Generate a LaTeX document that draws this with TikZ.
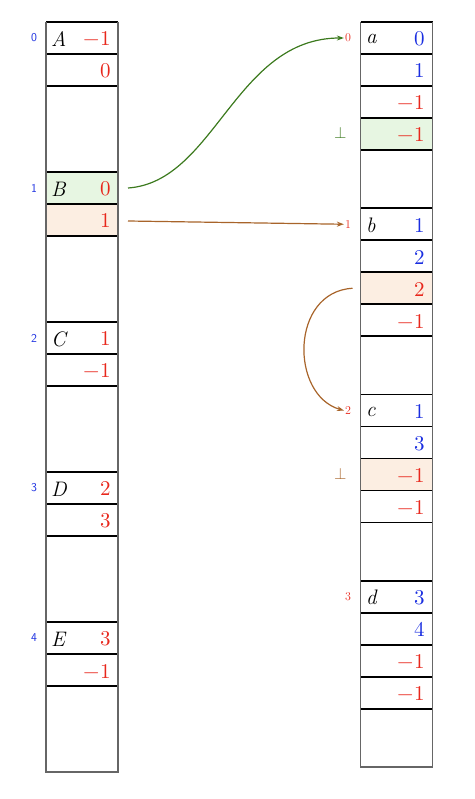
\documentclass[tikz,border=0pt]{standalone}
\usepackage{fontspec}
\usepackage{unicode-math}
\usetikzlibrary{arrows.meta}
\definecolor{vred}{HTML}{E8271C}
\definecolor{vblue}{HTML}{1A2EE0}
\definecolor{lgreen}{HTML}{E7F6E2}
\definecolor{lorange}{HTML}{FCEEE2}
\definecolor{dgreen}{HTML}{3C7A1E}
\definecolor{dorange}{HTML}{A8642A}
\tikzset{
  cell/.style={minimum width=72pt,minimum height=32pt,inner sep=0pt,outer sep=0pt},
  sepline/.style={black,line width=1.8pt},
  sideline/.style={gray!80!black,line width=1.4pt},
  val/.style={anchor=east,inner sep=0pt,font=\fontsize{21}{24}\selectfont},
  let/.style={anchor=west,inner sep=0pt,font=\fontsize{21}{24}\selectfont},
  idx/.style={inner sep=1pt,font=\fontsize{12}{14}\selectfont},
  conn/.style={line width=1.2pt,-{Stealth[length=7pt,width=5pt]}},
}
\begin{document}
\begin{tikzpicture}[x=1pt,y=-1pt]
\useasboundingbox (0,0) rectangle (474,799);
% ---------- left column ----------
\foreach \L/\va/\vb [count=\i from 0] in {A/{-1}/0,B/0/1,C/1/{-1},D/2/3,E/3/{-1}}{
  \pgfmathsetmacro{\yz}{22+150*\i}
  \node[cell] (L\i a) at (82,\yz+16) {};
  \node[cell] (L\i b) at (82,\yz+48) {};
}
\fill[lgreen] (L1a.north west) rectangle (L1a.south east);
\fill[lorange] (L1b.north west) rectangle (L1b.south east);
\foreach \L/\va/\vb [count=\i from 0] in {A/{-1}/0,B/0/1,C/1/{-1},D/2/3,E/3/{-1}}{
  \pgfmathsetmacro{\yz}{22+150*\i}
  \node[let] (LL\i) at (51,\yz+17) {$\mathit{\L}$};
  \node[val,text=vred] (LV\i a) at (111,\yz+17) {$\va$};
  \node[val,text=vred] (LV\i b) at (111,\yz+49) {$\vb$};
  \node[idx,text=vblue] (LI\i) at (34,\yz+16) {\sffamily\i};
  \draw[sepline] (L\i a.north west) -- (L\i a.north east);
  \draw[sepline] (L\i b.north west) -- (L\i b.north east);
  \draw[sepline] (L\i b.south west) -- (L\i b.south east);
}
\draw[sideline] (46,22) -- (46,772) -- (118,772) -- (118,22);
% ---------- right column ----------
\foreach \j in {0,1,2,3}{
  \pgfmathsetmacro{\yz}{22+186.25*\j}
  \foreach \k in {0,1,2,3}{
    \node[cell] (R\j\k) at (396.5,\yz+16+32*\k) {};
  }
}
\fill[lgreen] (R03.north west) rectangle (R03.south east);
\fill[lorange] (R12.north west) rectangle (R12.south east);
\fill[lorange] (R22.north west) rectangle (R22.south east);
\foreach \l/\va/\vb/\vc/\vd [count=\j from 0] in {a/0/1/{-1}/{-1},b/1/2/2/{-1},c/1/3/{-1}/{-1},d/3/4/{-1}/{-1}}{
  \pgfmathsetmacro{\yz}{22+186.25*\j}
  \node[let] (RL\j) at (366,\yz+17) {$\mathit{\l}$};
  \node[val,text=vblue] (RV\j0) at (425,\yz+17) {$\va$};
  \node[val,text=vblue] (RV\j1) at (425,\yz+49) {$\vb$};
  \node[val,text=vred] (RV\j2) at (425,\yz+81) {$\vc$};
  \node[val,text=vred] (RV\j3) at (425,\yz+113) {$\vd$};
  \node[idx,text=vred] (RI\j) at (348,\yz+16) {\j};
  \foreach \k in {0,1,2,3}{
    \draw[sepline] (R\j\k.north west) -- (R\j\k.north east);
  }
  \draw[sepline] (R\j3.south west) -- (R\j3.south east);
}
\draw[sideline] (360.5,22) -- (360.5,767) -- (432.5,767) -- (432.5,22);
% bottom markers
\node[font=\fontsize{16}{18}\selectfont,text=dgreen] (botA) at (341,133) {$\bot$};
\node[font=\fontsize{16}{18}\selectfont,text=dorange] (botC) at (341,474) {$\bot$};
% ---------- connectors ----------
\draw[conn,dgreen] ([xshift=10pt]L1a.east) .. controls (215,182) and (235,38) .. (RI0.west);
\draw[conn,dorange] ([xshift=10pt,yshift=-1pt]L1b.east) -- (RI1.west);
\draw[conn,dorange] ([xshift=-8pt]R12.west) .. controls (290,292) and (290,395) .. (RI2.west);
\end{tikzpicture}
\end{document}
